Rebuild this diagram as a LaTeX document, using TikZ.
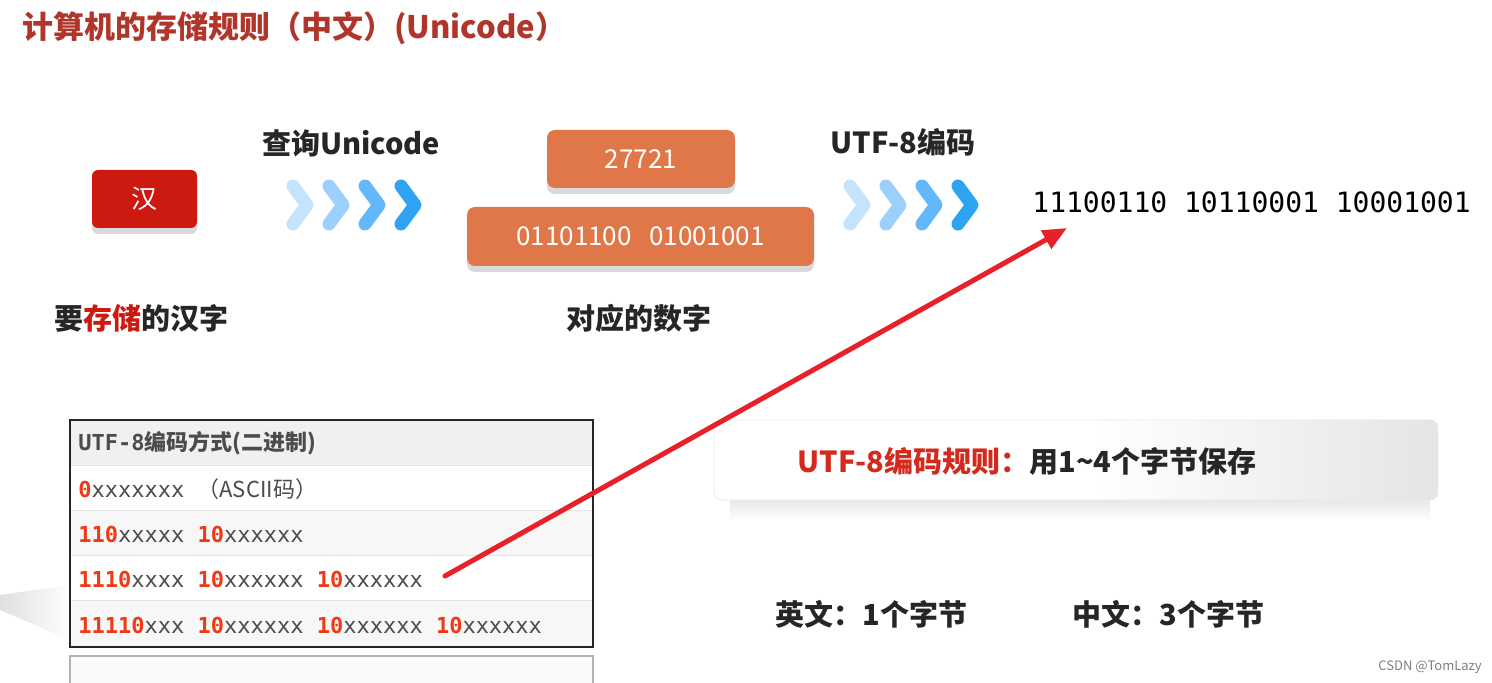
\documentclass[tikz,border=0pt]{standalone}
\usepackage{fontspec}
\setmainfont{Noto Sans CJK SC}
\newfontfamily\cjk{Noto Sans CJK SC}
\newfontfamily\mono{DejaVu Sans Mono}
\usetikzlibrary{shadows,fadings,arrows.meta}
\definecolor{titred}{HTML}{B0352A}
\definecolor{hanred}{HTML}{CC1A10}
\definecolor{org}{HTML}{E07748}
\definecolor{tred}{HTML}{F03A17}
\definecolor{rred}{HTML}{D42A1E}
\definecolor{arr}{HTML}{E8202A}
\definecolor{c1}{HTML}{C4E3FD}
\definecolor{c2}{HTML}{9AD0FB}
\definecolor{c3}{HTML}{62B8FA}
\definecolor{c4}{HTML}{2EA3F2}
\tikzset{
  obox/.style={fill=org,rounded corners=4pt,text=white,font=\fontsize{13}{13}\selectfont,
    drop shadow={shadow xshift=0pt,shadow yshift=-3pt,fill=black!15,opacity=1}},
  lbl/.style={font=\bfseries\fontsize{14.5}{14.5}\selectfont,text=black!85,inner sep=0pt},
  tb/.style={font=\mono\fontsize{11}{11}\selectfont,anchor=west,inner sep=0pt,text=black!70},
}
\newcommand{\R}[1]{\textcolor{tred}{\textbf{#1}}}
\newcommand{\chev}[3]{\draw[#3,line width=6.5pt,line cap=round,line join=round] (#1-4,#2-19) -- (#1+10,#2) -- (#1-4,#2+19);}
\begin{document}
\begin{tikzpicture}[x=0.5pt,y=-0.5pt]
\useasboundingbox[fill=white] (0,0) rectangle (1492,683);
\fill[black!12,path fading=east] (0,595) -- (70,585) -- (70,640) -- (0,610) -- cycle;
\node[anchor=west,inner sep=0pt,text=titred,font=\bfseries\fontsize{15.5}{15.5}\selectfont] (title) at (22,28) {计算机的存储规则（中文）(Unicode）};
\node[fill=hanred,rounded corners=3pt,minimum width=52.5pt,minimum height=29pt,text=white,font=\fontsize{13}{13}\selectfont,
  drop shadow={shadow xshift=0pt,shadow yshift=-3pt,fill=black!15,opacity=1}] (han) at (144.5,199) {汉};
\node[lbl] (cx) at (351,143) {查询Unicode};
\chev{297}{205}{c1}\chev{333}{205}{c2}\chev{369}{205}{c3}\chev{405}{205}{c4}
\node[obox,minimum width=94pt,minimum height=29pt] (n1) at (641,159) {27721};
\node[obox,minimum width=173.5pt,minimum height=29.5pt] (n2) at (640.5,236.5) {01101100\ \ \ 01001001};
\node[lbl] (utf) at (903,142) {UTF-8编码};
\chev{854}{205}{c1}\chev{890}{205}{c2}\chev{926}{205}{c3}\chev{962}{205}{c4}
\node[anchor=west,inner sep=0pt,font=\mono\fontsize{14}{14}\selectfont] (bits) at (1032,202) {11100110 10110001 10001001};
\node[lbl,anchor=west] (l1) at (54,318) {要\textcolor{hanred}{存储}的汉字};
\node[lbl] (l2) at (639,318) {对应的数字};
% table
\fill[black!6] (70,420) rectangle (593,465);
\fill[black!3] (70,510) rectangle (593,555);
\fill[black!3] (70,600) rectangle (593,647);
\foreach \y in {465,510,555,600} \draw[black!10] (70,\y) -- (593,\y);
\draw[black!85,line width=1pt] (70,420) rectangle (593,647);
\draw[black!30,line width=1pt,fill=black!2] (70,683) -- (70,656) -- (593,656) -- (593,683);
\node[tb,font=\mono\bfseries\fontsize{11}{11}\selectfont] (t0) at (78,443) {UTF-8\cjk 编码方式(二进制)};
\node[tb] (t1) at (78,489) {\R{0}xxxxxxx \cjk （ASCII码）};
\node[tb] (t2) at (78,534) {\R{110}xxxxx \R{10}xxxxxx};
\node[tb] (t3) at (78,579) {\R{1110}xxxx \R{10}xxxxxx \R{10}xxxxxx};
\node[tb] (t4) at (78,625) {\R{11110}xxx \R{10}xxxxxx \R{10}xxxxxx \R{10}xxxxxx};
% rule box
\fill[black!18,path fading=south] (730,480) rectangle (1430,520);
\node[fill=white,draw=black!8,rounded corners=4pt,minimum width=362pt,minimum height=40pt] (rb) at (1076,460) {};
\fill[black!10,rounded corners=4pt,path fading=west] (1100,420) rectangle (1438,500);
\node[lbl,anchor=west] (rt) at (797,461) {\textcolor{rred}{UTF-8编码规则：}用1\textasciitilde4个字节保存};
\node[lbl,anchor=west] (e1) at (775,614) {英文：1个字节};
\node[lbl,anchor=west] (e2) at (1072,614) {中文：3个字节};
\coordinate (a0) at (445,576);
\coordinate (a1) at (1067,228);
\draw[arr,line width=2.5pt,line cap=round,-{Triangle[length=12pt,width=10pt]}] (a0) -- (a1);
\node[anchor=east,inner sep=0pt,text=black!50,font=\fontsize{6.5}{6.5}\selectfont] (cs) at (1482,667) {CSDN @TomLazy};
\end{tikzpicture}
\end{document}
